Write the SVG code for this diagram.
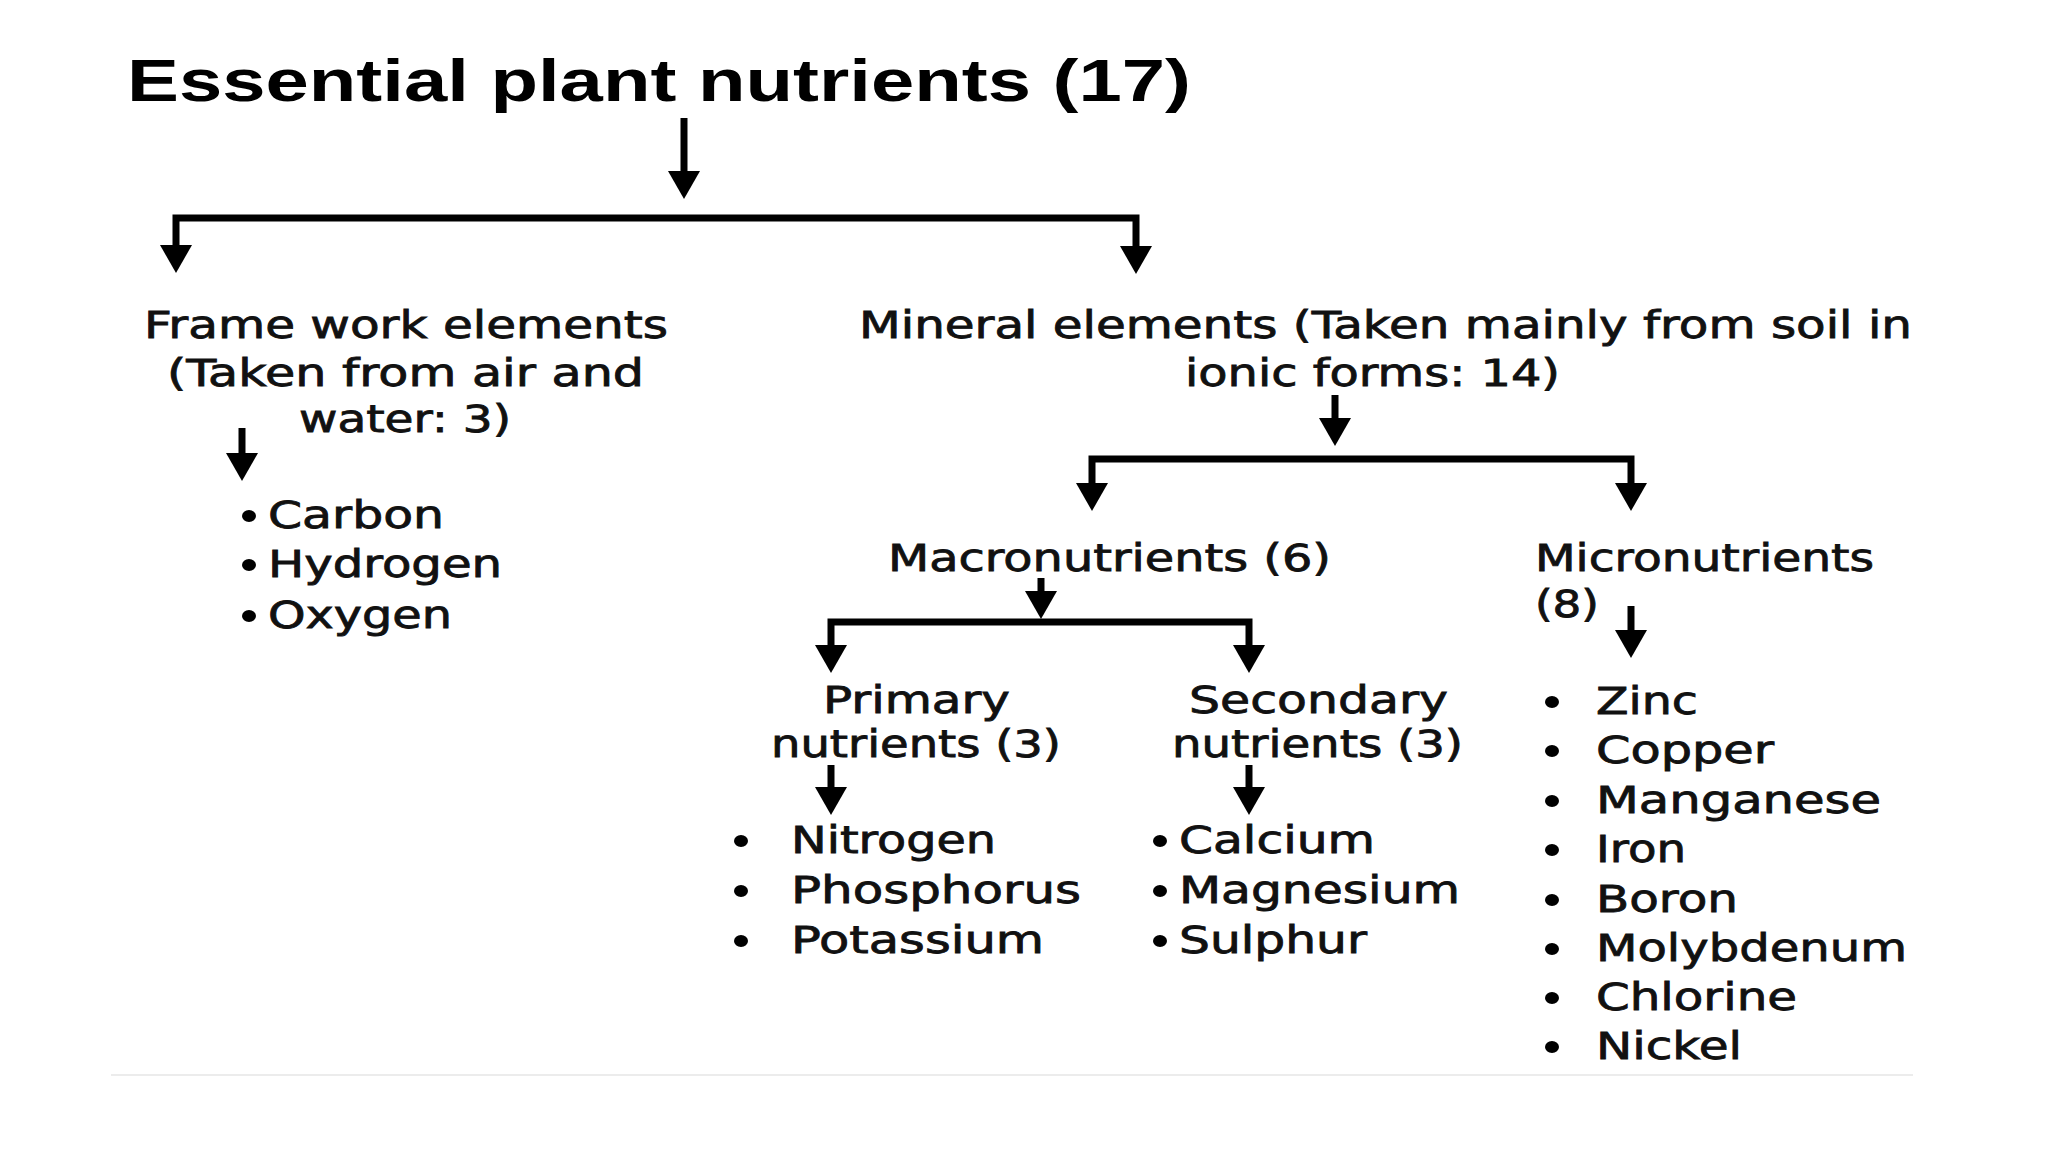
<svg xmlns="http://www.w3.org/2000/svg" width="2048" height="1152" viewBox="0 0 2048 1152">
<style>
.t{font-family:"Liberation Sans",Arial,sans-serif;font-weight:bold;font-size:60px;fill:#000}
.b{font-family:"DejaVu Sans","Liberation Sans",sans-serif;font-size:37px;fill:#111;stroke:#111;stroke-width:0.8}
.c{fill:none;stroke:#000;stroke-width:7;stroke-linejoin:miter}
.d{fill:#000}
</style>
<defs>
<marker id="ah" markerUnits="userSpaceOnUse" markerWidth="32" markerHeight="34" viewBox="-4 -17 32 34" refX="0" refY="0" orient="auto-start-reverse" overflow="visible">
<path d="M-4,-16 L24,0 L-4,16 z" fill="#000"/>
</marker>
</defs>
<rect width="2048" height="1152" fill="#fff"/>
<line x1="111" y1="1075" x2="1913" y2="1075" stroke="#ececec" stroke-width="2"/>

<g id="connectors">
<path class="c" d="M684,118 V175" marker-end="url(#ah)"/>
<path class="c" d="M176,249 V218 H1136 V250" marker-start="url(#ah)" marker-end="url(#ah)"/>
<path class="c" d="M242,428 V457" marker-end="url(#ah)"/>
<path class="c" d="M1335,395 V422" marker-end="url(#ah)"/>
<path class="c" d="M1092,487 V459 H1631 V487" marker-start="url(#ah)" marker-end="url(#ah)"/>
<path class="c" d="M1041,578 V595" marker-end="url(#ah)"/>
<path class="c" d="M831,649 V622 H1249 V649" marker-start="url(#ah)" marker-end="url(#ah)"/>
<path class="c" d="M1631,606 V634" marker-end="url(#ah)"/>
<path class="c" d="M831,765 V791" marker-end="url(#ah)"/>
<path class="c" d="M1249,765 V791" marker-end="url(#ah)"/>
</g>

<g id="root">
<text class="t" x="127" y="101" textLength="1064" lengthAdjust="spacingAndGlyphs">Essential plant nutrients (17)</text>
</g>

<g id="framework">
<text class="b" x="144" y="338" textLength="524" lengthAdjust="spacingAndGlyphs">Frame work elements</text>
<text class="b" x="167" y="386" textLength="477" lengthAdjust="spacingAndGlyphs">(Taken from air and</text>
<text class="b" x="299" y="432" textLength="212" lengthAdjust="spacingAndGlyphs">water: 3)</text>
</g>

<g id="framework-list">
<ellipse class="d" cx="249" cy="516" rx="7" ry="6"/>
<ellipse class="d" cx="249" cy="565" rx="7" ry="6"/>
<ellipse class="d" cx="249" cy="616" rx="7" ry="6"/>
<text class="b" x="268" y="528" textLength="176" lengthAdjust="spacingAndGlyphs">Carbon</text>
<text class="b" x="268" y="577" textLength="234" lengthAdjust="spacingAndGlyphs">Hydrogen</text>
<text class="b" x="268" y="628" textLength="184" lengthAdjust="spacingAndGlyphs">Oxygen</text>
</g>

<g id="mineral">
<text class="b" x="859" y="338" textLength="1053" lengthAdjust="spacingAndGlyphs">Mineral elements (Taken mainly from soil in</text>
<text class="b" x="1185" y="386" textLength="375" lengthAdjust="spacingAndGlyphs">ionic forms: 14)</text>
</g>

<g id="macro">
<text class="b" x="888" y="571" textLength="443" lengthAdjust="spacingAndGlyphs">Macronutrients (6)</text>
</g>

<g id="micro">
<text class="b" x="1535" y="571" textLength="339" lengthAdjust="spacingAndGlyphs">Micronutrients</text>
<text class="b" x="1535" y="617" textLength="64" lengthAdjust="spacingAndGlyphs">(8)</text>
</g>

<g id="primary">
<text class="b" x="823" y="713" textLength="187" lengthAdjust="spacingAndGlyphs">Primary</text>
<text class="b" x="771" y="757" textLength="290" lengthAdjust="spacingAndGlyphs">nutrients (3)</text>
</g>

<g id="secondary">
<text class="b" x="1189" y="713" textLength="259" lengthAdjust="spacingAndGlyphs">Secondary</text>
<text class="b" x="1172" y="757" textLength="291" lengthAdjust="spacingAndGlyphs">nutrients (3)</text>
</g>

<g id="primary-list">
<ellipse class="d" cx="741" cy="841" rx="7" ry="6"/>
<ellipse class="d" cx="741" cy="891" rx="7" ry="6"/>
<ellipse class="d" cx="741" cy="941" rx="7" ry="6"/>
<text class="b" x="791" y="853" textLength="205" lengthAdjust="spacingAndGlyphs">Nitrogen</text>
<text class="b" x="791" y="903" textLength="290" lengthAdjust="spacingAndGlyphs">Phosphorus</text>
<text class="b" x="791" y="953" textLength="253" lengthAdjust="spacingAndGlyphs">Potassium</text>
</g>

<g id="secondary-list">
<ellipse class="d" cx="1160" cy="841" rx="7" ry="6"/>
<ellipse class="d" cx="1160" cy="891" rx="7" ry="6"/>
<ellipse class="d" cx="1160" cy="941" rx="7" ry="6"/>
<text class="b" x="1179" y="853" textLength="196" lengthAdjust="spacingAndGlyphs">Calcium</text>
<text class="b" x="1179" y="903" textLength="281" lengthAdjust="spacingAndGlyphs">Magnesium</text>
<text class="b" x="1179" y="953" textLength="188" lengthAdjust="spacingAndGlyphs">Sulphur</text>
</g>

<g id="micro-list">
<ellipse class="d" cx="1552" cy="702" rx="7" ry="6"/>
<ellipse class="d" cx="1552" cy="751" rx="7" ry="6"/>
<ellipse class="d" cx="1552" cy="801" rx="7" ry="6"/>
<ellipse class="d" cx="1552" cy="850" rx="7" ry="6"/>
<ellipse class="d" cx="1552" cy="900" rx="7" ry="6"/>
<ellipse class="d" cx="1552" cy="949" rx="7" ry="6"/>
<ellipse class="d" cx="1552" cy="998" rx="7" ry="6"/>
<ellipse class="d" cx="1552" cy="1047" rx="7" ry="6"/>
<text class="b" x="1596" y="714" textLength="102" lengthAdjust="spacingAndGlyphs">Zinc</text>
<text class="b" x="1596" y="763" textLength="178" lengthAdjust="spacingAndGlyphs">Copper</text>
<text class="b" x="1596" y="813" textLength="285" lengthAdjust="spacingAndGlyphs">Manganese</text>
<text class="b" x="1596" y="862" textLength="90" lengthAdjust="spacingAndGlyphs">Iron</text>
<text class="b" x="1596" y="912" textLength="142" lengthAdjust="spacingAndGlyphs">Boron</text>
<text class="b" x="1596" y="961" textLength="311" lengthAdjust="spacingAndGlyphs">Molybdenum</text>
<text class="b" x="1596" y="1010" textLength="201" lengthAdjust="spacingAndGlyphs">Chlorine</text>
<text class="b" x="1596" y="1059" textLength="146" lengthAdjust="spacingAndGlyphs">Nickel</text>
</g>
</svg>
